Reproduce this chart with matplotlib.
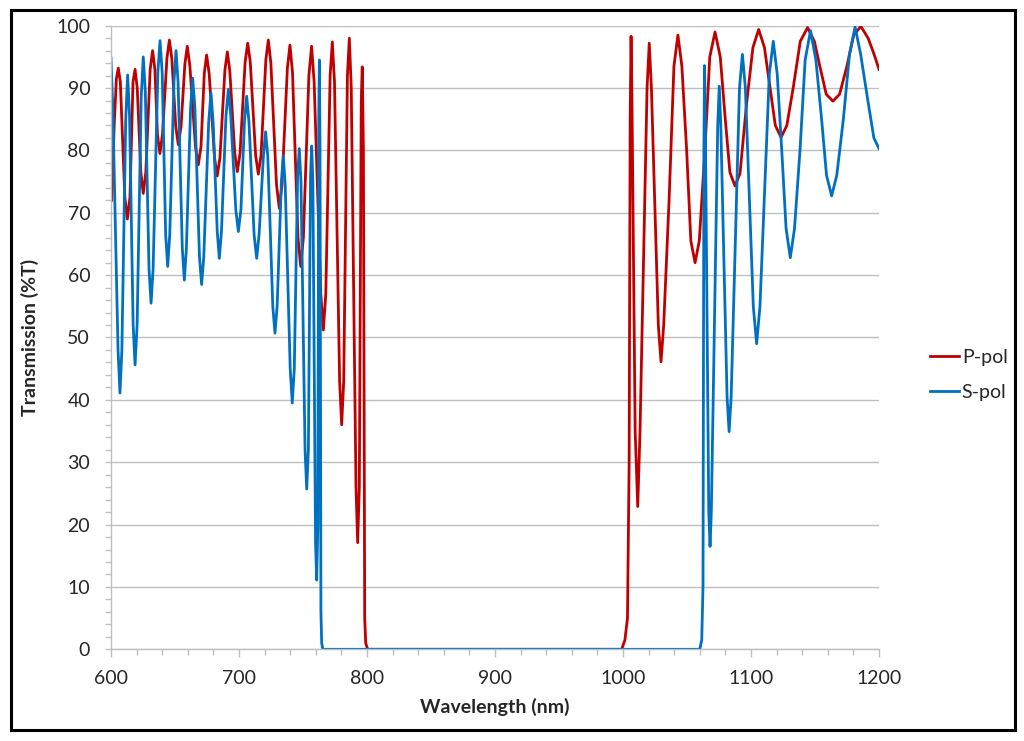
import matplotlib
matplotlib.use("Agg")
import matplotlib.pyplot as plt
from matplotlib.patches import Rectangle
from matplotlib.ticker import MultipleLocator

plt.rcParams["font.family"] = ["Lato", "DejaVu Sans"]

# P-pol transmission (wavelength nm, %T)
p_wl = [600.5, 602.5, 604.2, 605.7, 607.3, 610.8, 612.8, 614.8, 617.2, 618.8,
        620.5, 623.3, 625.2, 627.2, 630.6, 632.5, 634.3, 636.3, 638.2, 640.2,
        643.7, 645.6, 647.5, 650.6, 652.6, 654.7, 657.7, 659.6, 661.6, 666.0,
        668.2, 670.3, 672.9, 674.7, 676.7, 680.9, 683.0, 685.1, 689.0, 690.9,
        692.8, 696.7, 698.7, 700.8, 704.8, 706.8, 708.8, 713.0, 715.1, 717.2,
        721.0, 722.9, 724.9, 729.3, 731.5, 733.6, 737.8, 739.8, 741.8, 746.1,
        748.2, 750.3, 754.6, 756.7, 758.7, 763.9, 765.9, 767.8, 771.2, 772.9,
        774.6, 778.6, 780.2, 781.8, 784.7, 786.2, 787.7, 791.4, 792.7, 794.0,
        795.5, 796.3, 797.2, 798.2, 799.0, 800.5,
        999.0, 1001.5, 1003.5, 1004.8, 1005.6, 1006.3, 1007.0, 1009.5, 1011.5, 1013.3,
        1018.8, 1020.5, 1022.2, 1027.6, 1029.7, 1031.8, 1036.0, 1039.8, 1042.9, 1046.0,
        1049.7, 1053.0, 1056.3, 1059.6, 1064.0, 1067.8, 1071.9, 1076.0, 1079.5, 1083.5,
        1087.5, 1091.4, 1096.6, 1101.5, 1106.0, 1110.5, 1114.8, 1119.0, 1123.5, 1128.0,
        1133.1, 1138.5, 1144.2, 1149.5, 1153.9, 1158.8, 1164.0, 1169.2, 1174.8, 1180.3,
        1185.8, 1191.5, 1196.0, 1200.0]
p_t = [72.0, 84.0, 91.5, 93.2, 91.0, 72.5, 69.0, 72.5, 91.0, 93.0,
       90.0, 76.5, 73.1, 76.5, 93.0, 96.0, 93.0, 82.5, 79.5, 82.5,
       94.8, 97.7, 94.8, 83.8, 80.9, 83.8, 93.8, 96.7, 93.6, 80.6,
       77.7, 80.6, 92.4, 95.3, 92.3, 78.8, 75.9, 78.8, 92.9, 95.8,
       92.8, 79.5, 76.6, 79.5, 94.2, 97.2, 94.2, 79.2, 76.2, 79.2,
       94.6, 97.7, 94.0, 74.5, 70.7, 74.5, 93.2, 96.9, 92.5, 66.0,
       61.4, 66.0, 92.0, 96.7, 91.0, 57.0, 51.2, 57.0, 92.0, 97.4,
       91.0, 43.0, 36.0, 43.0, 92.0, 98.0, 90.0, 26.0, 17.1, 26.0,
       88.0, 93.4, 80.0, 5.0, 1.0, 0.0,
       0.0, 1.5, 5.0, 30.0, 85.0, 98.3, 88.0, 35.0, 22.9, 35.0,
       90.0, 97.2, 90.0, 52.0, 46.1, 52.0, 72.0, 93.5, 98.5, 93.5,
       80.1, 65.5, 62.0, 65.5, 80.1, 95.0, 99.0, 95.0, 86.0, 76.5,
       74.3, 76.3, 87.6, 96.5, 99.4, 96.5, 90.2, 84.0, 82.1, 84.0,
       90.2, 97.5, 99.7, 97.5, 93.4, 89.0, 87.9, 89.0, 93.4, 98.5,
       99.9, 98.0, 95.5, 93.0]

# S-pol transmission (wavelength nm, %T)
s_wl = [600.0, 601.5, 605.5, 607.0, 608.5, 611.5, 613.0, 614.5, 617.3, 618.8,
        620.4, 623.6, 625.2, 626.8, 629.7, 631.3, 632.9, 636.6, 638.3, 640.0,
        642.7, 644.3, 645.9, 649.2, 650.8, 652.4, 655.7, 657.3, 658.9, 662.2,
        663.8, 665.5, 669.1, 670.8, 672.5, 676.3, 678.1, 679.8, 683.0, 684.6,
        686.3, 689.8, 691.7, 693.6, 697.5, 699.5, 701.5, 704.3, 706.0, 707.8,
        711.8, 713.8, 715.7, 719.1, 720.8, 722.5, 726.4, 728.1, 729.8, 733.1,
        734.6, 736.1, 740.0, 741.6, 743.2, 745.8, 747.1, 748.4, 751.6, 752.9,
        754.2, 755.9, 756.8, 757.7, 759.8, 760.7, 761.6, 762.3, 762.8, 763.3,
        764.0, 764.6, 765.5,
        1060.0, 1061.5, 1062.5, 1063.2, 1063.7, 1064.3, 1067.0, 1068.0, 1069.0, 1074.0,
        1075.2, 1076.4, 1081.3, 1082.9, 1084.5, 1091.0, 1093.3, 1095.6, 1101.8, 1104.4,
        1107.0, 1114.3, 1117.4, 1120.5, 1124.0, 1127.4, 1130.7, 1134.0, 1138.3, 1142.3,
        1146.5, 1150.7, 1155.2, 1159.0, 1163.0, 1167.0, 1172.1, 1177.0, 1181.3, 1185.6,
        1191.6, 1196.0, 1200.0]
s_t = [94.8, 86.0, 48.0, 41.1, 48.0, 85.0, 92.1, 85.5, 52.0, 45.6,
       52.0, 88.5, 95.0, 89.5, 61.0, 55.5, 61.0, 92.5, 97.6, 92.5,
       66.5, 61.4, 66.5, 91.0, 96.0, 91.0, 64.3, 59.2, 64.3, 87.0,
       91.6, 87.0, 63.0, 58.5, 63.0, 84.5, 89.2, 84.5, 67.0, 62.7,
       67.0, 85.5, 89.8, 85.5, 70.5, 67.0, 70.5, 84.7, 88.7, 84.5,
       66.5, 62.7, 66.5, 79.2, 83.0, 79.0, 55.0, 50.7, 55.0, 75.0,
       79.1, 74.5, 45.0, 39.5, 45.0, 76.0, 80.3, 75.0, 32.0, 25.7,
       32.0, 76.0, 80.7, 75.0, 17.0, 11.1, 20.0, 85.0, 94.5, 80.0,
       6.0, 1.0, 0.0,
       0.0, 1.5, 10.0, 80.0, 93.6, 85.0, 22.0, 16.5, 22.0, 84.0,
       90.3, 84.0, 40.5, 34.9, 40.5, 90.0, 95.4, 90.0, 55.0, 49.0,
       55.0, 92.2, 97.5, 92.2, 80.1, 67.5, 62.8, 67.5, 80.1, 94.5,
       99.2, 94.5, 84.9, 76.0, 72.7, 76.0, 84.9, 95.5, 99.8, 95.5,
       87.6, 82.0, 80.3]

RED = "#C00000"
BLUE = "#0070C0"
GRID = "#BFBFBF"
TXT = "#262626"

fig = plt.figure(figsize=(10.24, 7.41), dpi=100)
ax = fig.add_axes([111 / 1024, 1 - 649.3 / 741, 768 / 1024, 623.6 / 741])

ax.plot(p_wl, p_t, color=RED, lw=2.0, label="P-pol", solid_joinstyle="round")
ax.plot(s_wl, s_t, color=BLUE, lw=2.0, label="S-pol", solid_joinstyle="round")

ax.set_xlim(600, 1200)
ax.set_ylim(0, 100)
ax.xaxis.set_major_locator(MultipleLocator(100))
ax.xaxis.set_minor_locator(MultipleLocator(20))
ax.yaxis.set_major_locator(MultipleLocator(10))
ax.yaxis.set_minor_locator(MultipleLocator(2))

ax.grid(axis="y", which="major", color=GRID, lw=1.0)
ax.set_axisbelow(True)
for side in ["top", "right"]:
    ax.spines[side].set_visible(False)
for side in ["left", "bottom"]:
    ax.spines[side].set_color(GRID)
    ax.spines[side].set_linewidth(1.0)

ax.tick_params(axis="both", which="both", direction="out", color=GRID, width=1.0)
ax.tick_params(axis="y", which="major", length=4.5, pad=10.5, labelsize=14, labelcolor=TXT)
ax.tick_params(axis="y", which="minor", length=4.5)
ax.tick_params(axis="x", which="major", length=6, pad=9, labelsize=14, labelcolor=TXT)
ax.tick_params(axis="x", which="minor", length=4.5)

ax.set_xlabel("Wavelength (nm)", fontsize=14, fontweight="bold", color=TXT, labelpad=8)
ax.set_ylabel("Transmission (%T)", fontsize=14, fontweight="bold", color=TXT, labelpad=12)

fig.legend(loc="center left", bbox_to_anchor=(920 / 1024, 1 - 375 / 741),
           frameon=False, fontsize=14, handlelength=1.5, handletextpad=0.15,
           labelspacing=0.95, borderpad=0, labelcolor=TXT)

fig.patches.append(Rectangle((11 / 1024, 1 - 730 / 741), 1004 / 1024, 720 / 741,
                             transform=fig.transFigure, fill=False,
                             ec="black", lw=2.2))

fig.savefig("out.png", dpi=100)
